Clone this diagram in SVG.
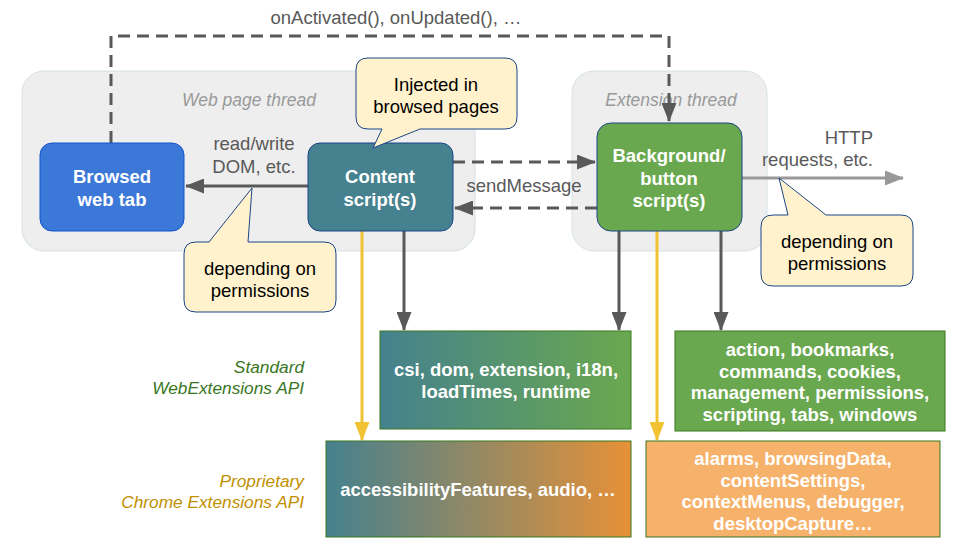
<svg xmlns="http://www.w3.org/2000/svg" width="960" height="540" viewBox="0 0 960 540">
<style>
text{font-family:"Liberation Sans",Arial,sans-serif}
.thread{fill:#eeeeee;stroke:#d5e1e6;stroke-width:1}
.tl{font-size:17.5px;font-style:italic;fill:#999999;text-anchor:middle}
.nt{font-size:18.5px;font-weight:bold;fill:#ffffff;text-anchor:middle}
.at{font-size:18.5px;font-weight:bold;fill:#ffffff;text-anchor:middle}
.lbl{font-size:18.5px;fill:#595959;text-anchor:middle}
.co{fill:#fff2cc;stroke:#1c4587;stroke-width:1}
.ct{font-size:18.5px;fill:#000000;text-anchor:middle}
.sl{font-size:17.3px;font-style:italic;text-anchor:end}
.solid{stroke:#595959;stroke-width:3;fill:none}
.dash{stroke:#595959;stroke-width:3;fill:none;stroke-dasharray:12 7}
.yel{stroke:#f1c232;stroke-width:3;fill:none}
.gray{stroke:#999999;stroke-width:3;fill:none}
</style>
<defs>
<marker id="ad" markerUnits="userSpaceOnUse" markerWidth="19" markerHeight="15" refX="18" refY="7.5" orient="auto"><path d="M0,0 L19,7.5 L0,15 z" fill="#595959"/></marker>
<marker id="ay" markerUnits="userSpaceOnUse" markerWidth="19" markerHeight="15" refX="18" refY="7.5" orient="auto"><path d="M0,0 L19,7.5 L0,15 z" fill="#f1c232"/></marker>
<marker id="ag" markerUnits="userSpaceOnUse" markerWidth="19" markerHeight="15" refX="18" refY="7.5" orient="auto"><path d="M0,0 L19,7.5 L0,15 z" fill="#999999"/></marker>
<linearGradient id="g1" x1="0" y1="0" x2="1" y2="0"><stop offset="0" stop-color="#45818e"/><stop offset="1" stop-color="#6aa84f"/></linearGradient>
<linearGradient id="g2" x1="0" y1="0" x2="1" y2="0"><stop offset="0" stop-color="#45818e"/><stop offset="1" stop-color="#e69138"/></linearGradient>
</defs>

<g id="web-page-thread">
<rect class="thread" x="22" y="71" width="453" height="180" rx="22"/>
<text class="tl" x="249" y="106">Web page thread</text>
</g>
<g id="extension-thread">
<rect class="thread" x="572" y="71" width="195" height="180" rx="22"/>
<text class="tl" x="671" y="106">Extension thread</text>
</g>

<g id="connectors">
<path class="dash" d="M111,143 V36 H669 V121" marker-end="url(#ad)"/>
<path class="solid" d="M308,186 H186" marker-end="url(#ad)"/>
<path class="dash" d="M453,162 H595" marker-end="url(#ad)"/>
<path class="dash" d="M597,208 H455" marker-end="url(#ad)"/>
<path class="gray" d="M742,178 H903" marker-end="url(#ag)"/>
<path class="solid" d="M404,231 V330" marker-end="url(#ad)"/>
<path class="yel" d="M362,231 V440" marker-end="url(#ay)"/>
<path class="solid" d="M619,231 V330" marker-end="url(#ad)"/>
<path class="solid" d="M721,231 V330" marker-end="url(#ad)"/>
<path class="yel" d="M657,231 V440" marker-end="url(#ay)"/>
<text class="lbl" x="396" y="24">onActivated(), onUpdated(), …</text>
<text class="lbl" x="254" y="150">read/write</text>
<text class="lbl" x="254" y="173">DOM, etc.</text>
<text class="lbl" x="524" y="192">sendMessage</text>
<text class="lbl" x="873" y="144" style="text-anchor:end">HTTP</text>
<text class="lbl" x="873" y="166" style="text-anchor:end">requests, etc.</text>
</g>

<g id="browsed-web-tab">
<rect x="40" y="143" width="144" height="88" rx="12" fill="#3c78d8" stroke="#1155cc" stroke-width="1"/>
<text class="nt" x="112" y="183">Browsed</text>
<text class="nt" x="112" y="206">web tab</text>
</g>
<g id="content-script">
<rect x="308" y="143" width="145" height="88" rx="12" fill="#45818e" stroke="#1c4587" stroke-width="1"/>
<text class="nt" x="380" y="183">Content</text>
<text class="nt" x="380" y="206">script(s)</text>
</g>
<g id="background-script">
<rect x="597" y="123" width="145" height="108" rx="14" fill="#6aa84f" stroke="#1c4587" stroke-width="1"/>
<text class="nt" x="669" y="162">Background/</text>
<text class="nt" x="669" y="185">button</text>
<text class="nt" x="669" y="207">script(s)</text>
</g>

<g id="callout-injected">
<path class="co" d="M368,58 H505 Q517,58 517,70 V117 Q517,129 505,129 H420 L373,148 L382,129 H368 Q356,129 356,117 V70 Q356,58 368,58 Z"/>
<text class="ct" x="436" y="91">Injected in</text>
<text class="ct" x="436" y="113">browsed pages</text>
</g>
<g id="callout-permissions-dom">
<path class="co" d="M196,242 H209 L252,188 L248,242 H324 Q336,242 336,254 V300 Q336,312 324,312 H196 Q184,312 184,300 V254 Q184,242 196,242 Z"/>
<text class="ct" x="260" y="275">depending on</text>
<text class="ct" x="260" y="297">permissions</text>
</g>
<g id="callout-permissions-http">
<path class="co" d="M773,215 H788 L779,178 L826,215 H901 Q913,215 913,227 V274 Q913,286 901,286 H773 Q761,286 761,274 V227 Q761,215 773,215 Z"/>
<text class="ct" x="837" y="248">depending on</text>
<text class="ct" x="837" y="270">permissions</text>
</g>

<g id="label-standard">
<text class="sl" x="304" y="373" fill="#38761d">Standard</text>
<text class="sl" x="304" y="394" fill="#38761d">WebExtensions API</text>
</g>
<g id="label-proprietary">
<text class="sl" x="304" y="487" fill="#bf9000">Proprietary</text>
<text class="sl" x="304" y="508" fill="#bf9000">Chrome Extensions API</text>
</g>

<g id="api-content-standard">
<rect x="380" y="331" width="251" height="98" fill="url(#g1)" stroke="#38761d" stroke-width="1"/>
<text class="at" x="506" y="376">csi, dom, extension, i18n,</text>
<text class="at" x="506" y="398">loadTimes, runtime</text>
</g>
<g id="api-background-standard">
<rect x="675" y="331" width="270" height="100" fill="#6aa84f" stroke="#38761d" stroke-width="1"/>
<text class="at" x="810" y="356">action, bookmarks,</text>
<text class="at" x="810" y="378">commands, cookies,</text>
<text class="at" x="810" y="399">management, permissions,</text>
<text class="at" x="810" y="421">scripting, tabs, windows</text>
</g>
<g id="api-content-proprietary">
<rect x="326" y="441" width="305" height="96" fill="url(#g2)" stroke="#38761d" stroke-width="1"/>
<text class="at" x="478" y="496">accessibilityFeatures, audio, …</text>
</g>
<g id="api-background-proprietary">
<rect x="646" y="441" width="294" height="96" fill="#f6b26b" stroke="#38761d" stroke-width="1"/>
<text class="at" x="793" y="465">alarms, browsingData,</text>
<text class="at" x="793" y="487">contentSettings,</text>
<text class="at" x="793" y="508">contextMenus, debugger,</text>
<text class="at" x="793" y="530">desktopCapture…</text>
</g>
</svg>
